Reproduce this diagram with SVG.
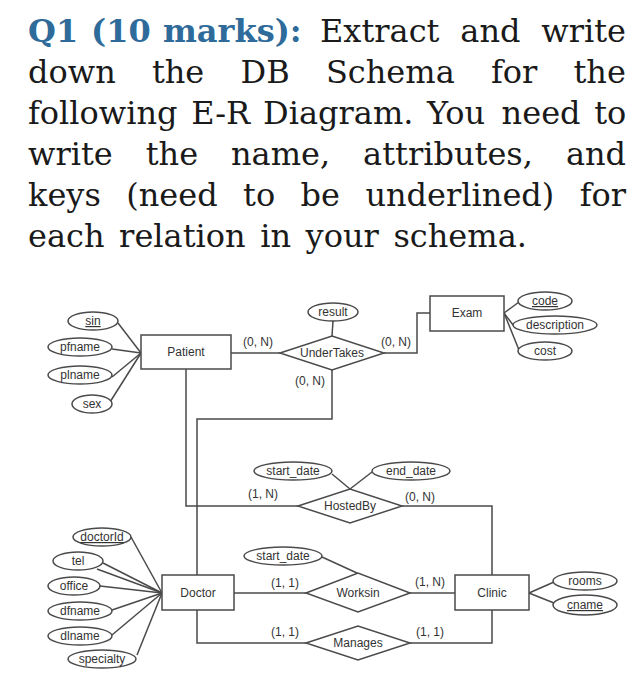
<svg xmlns="http://www.w3.org/2000/svg" width="639" height="700" viewBox="0 0 639 700">
<style>
.t{font-family:"DejaVu Serif","Liberation Serif",serif;font-size:32px;fill:#1a1a1a}
.b{font-weight:bold;fill:#2f6b9a}
.ent rect{fill:#fff;stroke:#4a4a4a;stroke-width:1.5}
.rel polygon{fill:#fff;stroke:#4a4a4a;stroke-width:1.5}
.att ellipse{fill:#fff;stroke:#4a4a4a;stroke-width:1.5}
.lbl{font-family:"Liberation Sans",Arial,sans-serif;font-size:12px;fill:#333;text-anchor:middle}
.key{text-decoration:underline}
#connectors line,#connectors polyline{fill:none;stroke:#4a4a4a;stroke-width:1.5}
</style>
<rect width="639" height="700" fill="#fff"/>
<g id="title">
<text class="t" y="41.5"><tspan class="b" x="28">Q1</tspan> <tspan class="b" x="91">(10</tspan> <tspan class="b" x="163">marks):</tspan> <tspan x="320">Extract</tspan> <tspan x="460.3">and</tspan> <tspan x="541.3">write</tspan></text>
<text class="t" y="82.5"><tspan x="28">down</tspan> <tspan x="151.9">the</tspan> <tspan x="240.5">DB</tspan> <tspan x="325.9">Schema</tspan> <tspan x="490.9">for</tspan> <tspan x="573.5">the</tspan></text>
<text class="t" y="123.5"><tspan x="28">following</tspan> <tspan x="191.2">E-R</tspan> <tspan x="263.1">Diagram.</tspan> <tspan x="427">You</tspan> <tspan x="501.6">need</tspan> <tspan x="594.2">to</tspan></text>
<text class="t" y="164.5"><tspan x="28">write</tspan> <tspan x="145.7">the</tspan> <tspan x="231">name,</tspan> <tspan x="363.1">attributes,</tspan> <tspan x="565.9">and</tspan></text>
<text class="t" y="205.5"><tspan x="28">keys</tspan> <tspan x="126.2">(need</tspan> <tspan x="243.1">to</tspan> <tspan x="300.6">be</tspan> <tspan x="365.4">underlined)</tspan> <tspan x="579.7">for</tspan></text>
<text class="t" y="246.5"><tspan x="28">each</tspan> <tspan x="119.1">relation</tspan> <tspan x="260.2">in</tspan> <tspan x="305.6">your</tspan> <tspan x="393.4">schema.</tspan></text>
</g>
<g id="connectors">
<line x1="118" y1="323" x2="141" y2="353"/>
<line x1="112" y1="349" x2="141" y2="353"/>
<line x1="112" y1="377" x2="141" y2="353"/>
<line x1="110" y1="402" x2="141" y2="353"/>
<line x1="333" y1="321" x2="332" y2="336"/>
<line x1="231" y1="353" x2="280" y2="353"/>
<polyline points="384,353 417,353 417,313 430,313"/>
<line x1="504" y1="313" x2="519" y2="302"/>
<line x1="504" y1="313" x2="513" y2="325"/>
<line x1="504" y1="313" x2="519" y2="350"/>
<polyline points="332,370 332,419 197,419 197,575"/>
<polyline points="186,369 186,506 298,506"/>
<polyline points="402,506 492,506 492,575"/>
<line x1="332" y1="474" x2="350" y2="489"/>
<line x1="372" y1="472" x2="350" y2="489"/>
<line x1="131" y1="537" x2="162" y2="593"/>
<line x1="103" y1="563" x2="162" y2="593"/>
<line x1="97" y1="569" x2="162" y2="593"/>
<line x1="100" y1="586" x2="162" y2="593"/>
<line x1="112" y1="610" x2="162" y2="593"/>
<line x1="112" y1="635" x2="162" y2="593"/>
<line x1="137" y1="655" x2="162" y2="593"/>
<line x1="234" y1="593" x2="306" y2="593"/>
<line x1="410" y1="593" x2="455" y2="593"/>
<line x1="322" y1="557" x2="357" y2="573"/>
<polyline points="197,610 197,643 306,643"/>
<polyline points="410,643 492,643 492,610"/>
<line x1="529" y1="593" x2="554" y2="582"/>
<line x1="529" y1="593" x2="554" y2="603"/>
</g>
<g id="cardinalities">
<text class="lbl" x="258" y="346">(0, N)</text>
<text class="lbl" x="396" y="346">(0, N)</text>
<text class="lbl" x="310" y="385">(0, N)</text>
<text class="lbl" x="263" y="498">(1, N)</text>
<text class="lbl" x="420" y="501">(0, N)</text>
<text class="lbl" x="285" y="587">(1, 1)</text>
<text class="lbl" x="430" y="586">(1, N)</text>
<text class="lbl" x="285" y="636">(1, 1)</text>
<text class="lbl" x="430" y="636">(1, 1)</text>
</g>
<g id="Patient" class="ent"><rect x="141" y="335" width="90" height="34"/><text class="lbl" x="186" y="356">Patient</text></g>
<g id="Exam" class="ent"><rect x="430" y="296" width="74" height="35"/><text class="lbl" x="467" y="317">Exam</text></g>
<g id="Doctor" class="ent"><rect x="162" y="575" width="72" height="35"/><text class="lbl" x="198" y="597">Doctor</text></g>
<g id="Clinic" class="ent"><rect x="455" y="575" width="74" height="35"/><text class="lbl" x="492" y="597">Clinic</text></g>
<g id="UnderTakes" class="rel"><polygon points="280,353 332,336 384,353 332,370"/><text class="lbl" x="332" y="357">UnderTakes</text></g>
<g id="HostedBy" class="rel"><polygon points="298,506 350,489 402,506 350,523"/><text class="lbl" x="350" y="510">HostedBy</text></g>
<g id="Worksin" class="rel"><polygon points="306,593 358,573 410,593 358,612"/><text class="lbl" x="358" y="597">Worksin</text></g>
<g id="Manages" class="rel"><polygon points="306,643 358,626 410,643 358,660"/><text class="lbl" x="358" y="647">Manages</text></g>
<g id="attr-sin" class="att"><ellipse cx="93" cy="321" rx="25" ry="9"/><text class="lbl key" x="93" y="325">sin</text></g>
<g id="attr-pfname" class="att"><ellipse cx="80" cy="347" rx="32" ry="9"/><text class="lbl" x="80" y="351">pfname</text></g>
<g id="attr-plname" class="att"><ellipse cx="80" cy="375" rx="32" ry="9"/><text class="lbl" x="80" y="379">plname</text></g>
<g id="attr-sex" class="att"><ellipse cx="92" cy="404" rx="20" ry="9"/><text class="lbl" x="92" y="408">sex</text></g>
<g id="attr-result" class="att"><ellipse cx="333" cy="312" rx="25" ry="9"/><text class="lbl" x="333" y="316">result</text></g>
<g id="attr-code" class="att"><ellipse cx="545" cy="301" rx="27" ry="9"/><text class="lbl key" x="545" y="305">code</text></g>
<g id="attr-description" class="att"><ellipse cx="555" cy="325" rx="42" ry="9"/><text class="lbl" x="555" y="329">description</text></g>
<g id="attr-cost" class="att"><ellipse cx="545" cy="351" rx="27" ry="9"/><text class="lbl" x="545" y="355">cost</text></g>
<g id="attr-hb-start_date" class="att"><ellipse cx="293" cy="471" rx="39" ry="9"/><text class="lbl" x="293" y="475">start_date</text></g>
<g id="attr-end_date" class="att"><ellipse cx="411" cy="471" rx="39" ry="9"/><text class="lbl" x="411" y="475">end_date</text></g>
<g id="attr-doctorId" class="att"><ellipse cx="102" cy="537" rx="29" ry="9"/><text class="lbl key" x="102" y="541">doctorId</text></g>
<g id="attr-tel" class="att"><ellipse cx="78" cy="561" rx="25" ry="9"/><text class="lbl" x="78" y="565">tel</text></g>
<g id="attr-office" class="att"><ellipse cx="74" cy="586" rx="26" ry="9"/><text class="lbl" x="74" y="590">office</text></g>
<g id="attr-dfname" class="att"><ellipse cx="80" cy="611" rx="32" ry="9"/><text class="lbl" x="80" y="615">dfname</text></g>
<g id="attr-dlname" class="att"><ellipse cx="80" cy="636" rx="32" ry="9"/><text class="lbl" x="80" y="640">dlname</text></g>
<g id="attr-specialty" class="att"><ellipse cx="102" cy="659" rx="34" ry="9"/><text class="lbl" x="102" y="663">specialty</text></g>
<g id="attr-wi-start_date" class="att"><ellipse cx="283" cy="556" rx="39" ry="9"/><text class="lbl" x="283" y="560">start_date</text></g>
<g id="attr-rooms" class="att"><ellipse cx="585" cy="581" rx="32" ry="9"/><text class="lbl" x="585" y="585">rooms</text></g>
<g id="attr-cname" class="att"><ellipse cx="585" cy="605" rx="32" ry="10"/><text class="lbl key" x="585" y="609">cname</text></g>
</svg>
